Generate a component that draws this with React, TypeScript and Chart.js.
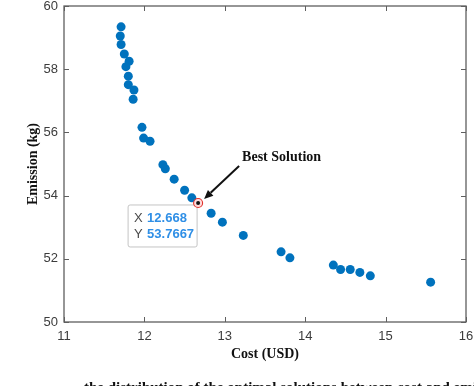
import React, { useEffect, useRef } from "react";
import { Chart, registerables } from "chart.js";

Chart.register(...registerables);

const costUSD = [11.71, 11.70, 11.71, 11.75, 11.81, 11.77, 11.80, 11.80, 11.87, 11.86, 11.97, 11.99, 12.07, 12.23, 12.26, 12.37, 12.50, 12.59, 12.83, 12.97, 13.23, 13.70, 13.81, 14.35, 14.44, 14.56, 14.68, 14.81, 15.56];
const emissionKg = [59.34, 59.05, 58.78, 58.48, 58.25, 58.08, 57.78, 57.51, 57.34, 57.05, 56.16, 55.82, 55.72, 54.98, 54.85, 54.52, 54.17, 53.93, 53.44, 53.16, 52.74, 52.22, 52.03, 51.80, 51.66, 51.66, 51.57, 51.46, 51.26];
const bestCost = 12.668;
const bestEmission = 53.7667;
const xTicks = [11, 12, 13, 14, 15, 16];
const yTicks = [50, 52, 54, 56, 58, 60];
const xTitle = "Cost (USD)";
const yTitle = "Emission (kg)";
const bestLabel = "Best Solution";
const captionText = "the distribution of the optimal solutions between cost and emission";

const SERIF = "'Liberation Serif', 'Times New Roman', serif";
const SANS = "'Liberation Sans', Arial, sans-serif";
const AXIS_COLOR = "#5f5f5f";

const overlayPlugin = {
  id: "overlay",
  afterDatasetsDraw(chart: any) {
    const { ctx, chartArea, scales } = chart;
    const { left, right, top, bottom } = chartArea;
    const xs = scales.x;
    const ys = scales.y;
    ctx.save();
    // frame
    ctx.strokeStyle = AXIS_COLOR;
    ctx.lineWidth = 1.3;
    ctx.strokeRect(left, top, right - left, bottom - top);
    // inward ticks
    const tl = 5;
    ctx.beginPath();
    xTicks.forEach((v) => {
      const px = Math.round(xs.getPixelForValue(v)) + 0.5;
      ctx.moveTo(px, bottom);
      ctx.lineTo(px, bottom - tl);
      ctx.moveTo(px, top);
      ctx.lineTo(px, top + tl);
    });
    yTicks.forEach((v) => {
      const py = Math.round(ys.getPixelForValue(v)) + 0.5;
      ctx.moveTo(left, py);
      ctx.lineTo(left + tl, py);
      ctx.moveTo(right, py);
      ctx.lineTo(right - tl, py);
    });
    ctx.lineWidth = 1;
    ctx.stroke();

    // axis titles
    ctx.fillStyle = "#111";
    ctx.font = `bold 14px ${SERIF}`;
    ctx.textAlign = "center";
    ctx.textBaseline = "middle";
    ctx.fillText(xTitle, (left + right) / 2, 354);
    ctx.save();
    ctx.translate(33, (top + bottom) / 2);
    ctx.rotate(-Math.PI / 2);
    ctx.fillText(yTitle, 0, 0);
    ctx.restore();

    // caption (cut off at bottom)
    ctx.font = `bold 15px ${SERIF}`;
    ctx.textAlign = "left";
    ctx.textBaseline = "alphabetic";
    ctx.fillText(captionText, 84, 392);

    // best point annotation
    const bx = xs.getPixelForValue(bestCost);
    const by = ys.getPixelForValue(bestEmission);

    // datatip box
    const boxX = bx - 70;
    const boxY = by + 2;
    const boxW = 69;
    const boxH = 42;
    ctx.fillStyle = "rgba(255,255,255,0.95)";
    ctx.strokeStyle = "#c4c4c4";
    ctx.lineWidth = 1;
    ctx.beginPath();
    const r = 2;
    ctx.moveTo(boxX + r, boxY);
    ctx.lineTo(boxX + boxW - r, boxY);
    ctx.quadraticCurveTo(boxX + boxW, boxY, boxX + boxW, boxY + r);
    ctx.lineTo(boxX + boxW, boxY + boxH - r);
    ctx.quadraticCurveTo(boxX + boxW, boxY + boxH, boxX + boxW - r, boxY + boxH);
    ctx.lineTo(boxX + r, boxY + boxH);
    ctx.quadraticCurveTo(boxX, boxY + boxH, boxX, boxY + boxH - r);
    ctx.lineTo(boxX, boxY + r);
    ctx.quadraticCurveTo(boxX, boxY, boxX + r, boxY);
    ctx.closePath();
    ctx.fill();
    ctx.stroke();

    ctx.textBaseline = "middle";
    ctx.textAlign = "left";
    ctx.font = `13px ${SANS}`;
    ctx.fillStyle = "#4a4a4a";
    ctx.fillText("X", boxX + 6, boxY + 13);
    ctx.fillText("Y", boxX + 6, boxY + 29);
    ctx.font = `bold 13px ${SANS}`;
    ctx.fillStyle = "#2f8fe6";
    ctx.fillText(String(bestCost), boxX + 19, boxY + 13);
    ctx.fillText(String(bestEmission), boxX + 19, boxY + 29);

    // best marker
    ctx.beginPath();
    ctx.arc(bx, by, 4.5, 0, Math.PI * 2);
    ctx.fillStyle = "rgba(255,215,215,0.9)";
    ctx.fill();
    ctx.strokeStyle = "#e0322c";
    ctx.lineWidth = 1.1;
    ctx.stroke();
    ctx.beginPath();
    ctx.arc(bx, by, 2, 0, Math.PI * 2);
    ctx.fillStyle = "#111";
    ctx.fill();

    // arrow
    const tipX = bx + 6;
    const tipY = by - 4;
    const startX = tipX + 35;
    const startY = tipY - 33;
    const ang = Math.atan2(tipY - startY, tipX - startX);
    const headLen = 9;
    const headW = 4;
    const baseX = tipX - headLen * Math.cos(ang);
    const baseY = tipY - headLen * Math.sin(ang);
    ctx.strokeStyle = "#111";
    ctx.lineWidth = 2;
    ctx.beginPath();
    ctx.moveTo(startX, startY);
    ctx.lineTo(baseX, baseY);
    ctx.stroke();
    ctx.beginPath();
    ctx.moveTo(tipX, tipY);
    ctx.lineTo(baseX + headW * Math.sin(ang), baseY - headW * Math.cos(ang));
    ctx.lineTo(baseX - headW * Math.sin(ang), baseY + headW * Math.cos(ang));
    ctx.closePath();
    ctx.fillStyle = "#111";
    ctx.fill();

    // label
    ctx.font = `bold 14px ${SERIF}`;
    ctx.fillStyle = "#111";
    ctx.textAlign = "left";
    ctx.textBaseline = "middle";
    ctx.fillText(bestLabel, startX + 3, startY - 9);

    ctx.restore();
  },
};

export default function App() {
  const ref = useRef<HTMLCanvasElement | null>(null);
  useEffect(() => {
    if (!ref.current) return;
    const points = costUSD.map((c, i) => ({ x: c, y: emissionKg[i] }));
    const chart = new Chart(ref.current, {
      type: "scatter",
      data: {
        datasets: [
          {
            data: points,
            backgroundColor: "#0072BD",
            borderColor: "#0072BD",
            pointRadius: 4.5,
            pointBorderWidth: 0,
          },
        ],
      },
      options: {
        responsive: false,
        animation: false,
        events: [],
        layout: { autoPadding: false, padding: { top: 6, right: 8, left: 0, bottom: 0 } },
        plugins: { legend: { display: false }, tooltip: { enabled: false }, title: { display: false } },
        scales: {
          x: {
            type: "linear",
            min: 11,
            max: 16,
            afterFit: (s: any) => { s.height = 64; s.paddingLeft = 0; s.paddingRight = 0; },
            afterBuildTicks: (s: any) => { s.ticks = xTicks.map((v) => ({ value: v })); },
            grid: { display: false, drawTicks: false },
            border: { display: false },
            ticks: { color: "#3c3c3c", font: { family: SANS, size: 13 }, padding: 7, maxRotation: 0, autoSkip: false },
          },
          y: {
            type: "linear",
            min: 50,
            max: 60,
            afterFit: (s: any) => { s.width = 64; s.paddingTop = 0; s.paddingBottom = 0; },
            afterBuildTicks: (s: any) => { s.ticks = yTicks.map((v) => ({ value: v })); },
            grid: { display: false, drawTicks: false },
            border: { display: false },
            ticks: { color: "#3c3c3c", font: { family: SANS, size: 13 }, padding: 6, autoSkip: false },
          },
        },
      },
      plugins: [overlayPlugin],
    });
    return () => chart.destroy();
  }, []);
  return (
    <div style={{ position: "absolute", left: 0, top: 0, width: 474, height: 386, overflow: "hidden", background: "#fff" }}>
      <canvas ref={ref} width={474} height={386} style={{ display: "block" }} />
    </div>
  );
}
